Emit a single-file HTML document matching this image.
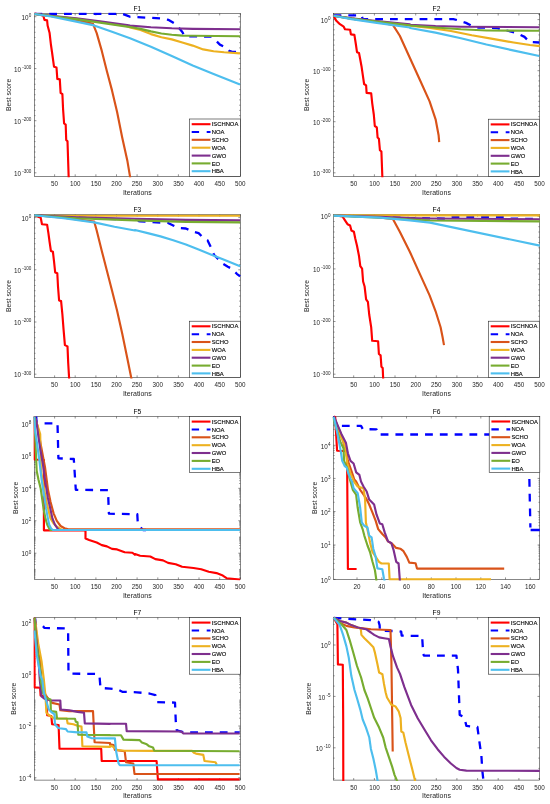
<!DOCTYPE html>
<html><head><meta charset="utf-8"><title>Convergence curves</title>
<style>html,body{margin:0;padding:0;background:#fff}svg{display:block;filter:blur(0.3px)}text{font-family:"Liberation Sans", Arial, Helvetica, sans-serif}</style>
</head><body>
<svg width="550" height="804" viewBox="0 0 550 804">
<rect width="550" height="804" fill="#fff"/>
<clipPath id="c1"><rect x="33.4" y="12.2" width="207.9" height="165.1"/></clipPath>
<rect x="34.4" y="13.4" width="205.9" height="162.9" fill="#fff" stroke="#262626" stroke-width="0.55"/>
<path d="M54.6 176.3v-2.0M54.6 13.4v2.0" stroke="#262626" stroke-width="0.5"/>
<text x="54.6" y="185.8" font-size="6.3" text-anchor="middle" fill="#262626">50</text>
<path d="M75.2 176.3v-2.0M75.2 13.4v2.0" stroke="#262626" stroke-width="0.5"/>
<text x="75.2" y="185.8" font-size="6.3" text-anchor="middle" fill="#262626">100</text>
<path d="M95.9 176.3v-2.0M95.9 13.4v2.0" stroke="#262626" stroke-width="0.5"/>
<text x="95.9" y="185.8" font-size="6.3" text-anchor="middle" fill="#262626">150</text>
<path d="M116.5 176.3v-2.0M116.5 13.4v2.0" stroke="#262626" stroke-width="0.5"/>
<text x="116.5" y="185.8" font-size="6.3" text-anchor="middle" fill="#262626">200</text>
<path d="M137.1 176.3v-2.0M137.1 13.4v2.0" stroke="#262626" stroke-width="0.5"/>
<text x="137.1" y="185.8" font-size="6.3" text-anchor="middle" fill="#262626">250</text>
<path d="M157.8 176.3v-2.0M157.8 13.4v2.0" stroke="#262626" stroke-width="0.5"/>
<text x="157.8" y="185.8" font-size="6.3" text-anchor="middle" fill="#262626">300</text>
<path d="M178.4 176.3v-2.0M178.4 13.4v2.0" stroke="#262626" stroke-width="0.5"/>
<text x="178.4" y="185.8" font-size="6.3" text-anchor="middle" fill="#262626">350</text>
<path d="M199.0 176.3v-2.0M199.0 13.4v2.0" stroke="#262626" stroke-width="0.5"/>
<text x="199.0" y="185.8" font-size="6.3" text-anchor="middle" fill="#262626">400</text>
<path d="M219.7 176.3v-2.0M219.7 13.4v2.0" stroke="#262626" stroke-width="0.5"/>
<text x="219.7" y="185.8" font-size="6.3" text-anchor="middle" fill="#262626">450</text>
<path d="M240.3 176.3v-2.0M240.3 13.4v2.0" stroke="#262626" stroke-width="0.5"/>
<text x="240.3" y="185.8" font-size="6.3" text-anchor="middle" fill="#262626">500</text>
<path d="M34.4 16.7h2.0M240.3 16.7h-2.0" stroke="#262626" stroke-width="0.5"/>
<text x="31.4" y="17.0" font-size="4.6" text-anchor="end" fill="#262626">0</text>
<text x="28.6" y="19.9" font-size="6.3" text-anchor="end" fill="#262626">10</text>
<path d="M34.4 68.6h2.0M240.3 68.6h-2.0" stroke="#262626" stroke-width="0.5"/>
<text x="31.4" y="68.9" font-size="4.6" text-anchor="end" fill="#262626">-100</text>
<text x="21.0" y="71.8" font-size="6.3" text-anchor="end" fill="#262626">10</text>
<path d="M34.4 120.7h2.0M240.3 120.7h-2.0" stroke="#262626" stroke-width="0.5"/>
<text x="31.4" y="121.0" font-size="4.6" text-anchor="end" fill="#262626">-200</text>
<text x="21.0" y="123.9" font-size="6.3" text-anchor="end" fill="#262626">10</text>
<path d="M34.4 172.8h2.0M240.3 172.8h-2.0" stroke="#262626" stroke-width="0.5"/>
<text x="31.4" y="173.1" font-size="4.6" text-anchor="end" fill="#262626">-300</text>
<text x="21.0" y="176.0" font-size="6.3" text-anchor="end" fill="#262626">10</text>
<path d="M34.4 21.9h1.1M240.3 21.9h-1.1M34.4 27.1h1.1M240.3 27.1h-1.1M34.4 32.3h1.1M240.3 32.3h-1.1M34.4 37.5h1.1M240.3 37.5h-1.1M34.4 42.7h1.1M240.3 42.7h-1.1M34.4 47.9h1.1M240.3 47.9h-1.1M34.4 53.1h1.1M240.3 53.1h-1.1M34.4 58.3h1.1M240.3 58.3h-1.1M34.4 63.5h1.1M240.3 63.5h-1.1M34.4 73.9h1.1M240.3 73.9h-1.1M34.4 79.1h1.1M240.3 79.1h-1.1M34.4 84.3h1.1M240.3 84.3h-1.1M34.4 89.5h1.1M240.3 89.5h-1.1M34.4 94.7h1.1M240.3 94.7h-1.1M34.4 99.9h1.1M240.3 99.9h-1.1M34.4 105.2h1.1M240.3 105.2h-1.1M34.4 110.4h1.1M240.3 110.4h-1.1M34.4 115.6h1.1M240.3 115.6h-1.1M34.4 126.0h1.1M240.3 126.0h-1.1M34.4 131.2h1.1M240.3 131.2h-1.1M34.4 136.4h1.1M240.3 136.4h-1.1M34.4 141.6h1.1M240.3 141.6h-1.1M34.4 146.8h1.1M240.3 146.8h-1.1M34.4 152.0h1.1M240.3 152.0h-1.1M34.4 157.2h1.1M240.3 157.2h-1.1M34.4 162.4h1.1M240.3 162.4h-1.1M34.4 167.6h1.1M240.3 167.6h-1.1" stroke="#262626" stroke-width="0.5"/>
<g clip-path="url(#c1)">
<polyline points="34.4,13.2 43.3,15.8 44.5,19.9 47.1,20.4 47.6,25.5 49.6,33.1 50.9,44.5 52.2,53.5 54.0,66.7 56.5,67.5 57.3,78.9 59.8,79.4 60.6,92.9 62.4,94.2 63.1,109.5 64.1,123.5 65.7,124.7 66.2,140.0 67.5,141.3 68.7,178.2" fill="none" stroke="#ff0000" stroke-width="2.15" stroke-linejoin="round"/>
<polyline points="34.4,13.8 122.0,13.8 127.2,15.6 130.0,16.8 150.9,17.8 161.4,18.5 168.7,19.9 173.9,23.1 178.1,26.8 182.3,32.0 184.8,36.2 211.5,36.6 215.7,40.4 219.9,44.6 226.2,47.7 229.3,50.9 232.0,51.9 240.0,51.9" fill="none" stroke="#0000ff" stroke-width="2.30" stroke-linejoin="round" stroke-dasharray="7.8 7.0"/>
<polyline points="34.4,14.0 50.9,16.0 76.4,19.9 92.9,23.7 96.7,33.1 101.8,50.9 106.9,71.3 112.0,90.4 117.1,112.0 122.2,137.5 127.3,160.4 130.3,178.2" fill="none" stroke="#d95319" stroke-width="2.15" stroke-linejoin="round"/>
<polyline points="34.4,14.0 50.9,16.0 76.3,18.8 101.8,22.1 127.2,26.2 130.0,27.4 140.5,30.0 150.9,34.1 161.4,37.3 171.8,39.4 182.3,42.5 192.7,45.6 203.2,49.4 213.6,51.3 224.1,52.3 240.0,53.4" fill="none" stroke="#edb120" stroke-width="2.15" stroke-linejoin="round"/>
<polyline points="34.4,14.0 50.9,15.8 76.3,18.3 101.8,21.6 127.2,25.0 130.0,25.6 150.9,27.2 171.8,28.3 192.7,28.9 240.0,29.3" fill="none" stroke="#7e2f8e" stroke-width="2.15" stroke-linejoin="round"/>
<polyline points="34.4,14.0 50.9,16.0 76.3,19.1 101.8,22.9 127.2,26.6 130.0,27.0 140.5,28.9 150.9,31.4 161.4,33.5 171.8,34.8 182.3,35.6 192.7,35.8 240.0,36.2" fill="none" stroke="#77ac30" stroke-width="2.15" stroke-linejoin="round"/>
<polyline points="34.4,14.0 50.9,16.5 76.3,21.6 94.1,25.4 112.0,31.8 130.0,38.3 150.9,46.7 171.8,56.1 192.7,65.5 213.6,73.9 240.0,84.4" fill="none" stroke="#4dbeee" stroke-width="2.15" stroke-linejoin="round"/>
</g>
<text x="137.3" y="10.8" font-size="6.7" text-anchor="middle" fill="#000">F1</text>
<text x="137.3" y="194.6" font-size="7.0" text-anchor="middle" fill="#262626">Iterations</text>
<text transform="translate(10.9 94.9) rotate(-90)" font-size="6.8" text-anchor="middle" fill="#262626">Best score</text>
<rect x="189.5" y="119.0" width="50.8" height="57.3" fill="#fff" stroke="#262626" stroke-width="0.6"/>
<path d="M191.7 124.2H210.5" stroke="#ff0000" stroke-width="2.1"/>
<text x="211.7" y="126.2" font-size="5.85" fill="#000" stroke="#000" stroke-width="0.12">ISCHNOA</text>
<path d="M191.7 132.0H210.5" stroke="#0000ff" stroke-width="2.1" stroke-dasharray="7.4 7.6"/>
<text x="211.7" y="134.1" font-size="5.85" fill="#000" stroke="#000" stroke-width="0.12">NOA</text>
<path d="M191.7 139.8H210.5" stroke="#d95319" stroke-width="2.1"/>
<text x="211.7" y="141.9" font-size="5.85" fill="#000" stroke="#000" stroke-width="0.12">SCHO</text>
<path d="M191.7 147.7H210.5" stroke="#edb120" stroke-width="2.1"/>
<text x="211.7" y="149.8" font-size="5.85" fill="#000" stroke="#000" stroke-width="0.12">WOA</text>
<path d="M191.7 155.6H210.5" stroke="#7e2f8e" stroke-width="2.1"/>
<text x="211.7" y="157.6" font-size="5.85" fill="#000" stroke="#000" stroke-width="0.12">GWO</text>
<path d="M191.7 163.4H210.5" stroke="#77ac30" stroke-width="2.1"/>
<text x="211.7" y="165.5" font-size="5.85" fill="#000" stroke="#000" stroke-width="0.12">EO</text>
<path d="M191.7 171.2H210.5" stroke="#4dbeee" stroke-width="2.1"/>
<text x="211.7" y="173.3" font-size="5.85" fill="#000" stroke="#000" stroke-width="0.12">HBA</text>
<clipPath id="c2"><rect x="332.5" y="12.3" width="208.0" height="165.0"/></clipPath>
<rect x="333.5" y="13.5" width="206.0" height="162.8" fill="#fff" stroke="#262626" stroke-width="0.55"/>
<path d="M353.7 176.3v-2.0M353.7 13.5v2.0" stroke="#262626" stroke-width="0.5"/>
<text x="353.7" y="185.8" font-size="6.3" text-anchor="middle" fill="#262626">50</text>
<path d="M374.4 176.3v-2.0M374.4 13.5v2.0" stroke="#262626" stroke-width="0.5"/>
<text x="374.4" y="185.8" font-size="6.3" text-anchor="middle" fill="#262626">100</text>
<path d="M395.0 176.3v-2.0M395.0 13.5v2.0" stroke="#262626" stroke-width="0.5"/>
<text x="395.0" y="185.8" font-size="6.3" text-anchor="middle" fill="#262626">150</text>
<path d="M415.7 176.3v-2.0M415.7 13.5v2.0" stroke="#262626" stroke-width="0.5"/>
<text x="415.7" y="185.8" font-size="6.3" text-anchor="middle" fill="#262626">200</text>
<path d="M436.3 176.3v-2.0M436.3 13.5v2.0" stroke="#262626" stroke-width="0.5"/>
<text x="436.3" y="185.8" font-size="6.3" text-anchor="middle" fill="#262626">250</text>
<path d="M456.9 176.3v-2.0M456.9 13.5v2.0" stroke="#262626" stroke-width="0.5"/>
<text x="456.9" y="185.8" font-size="6.3" text-anchor="middle" fill="#262626">300</text>
<path d="M477.6 176.3v-2.0M477.6 13.5v2.0" stroke="#262626" stroke-width="0.5"/>
<text x="477.6" y="185.8" font-size="6.3" text-anchor="middle" fill="#262626">350</text>
<path d="M498.2 176.3v-2.0M498.2 13.5v2.0" stroke="#262626" stroke-width="0.5"/>
<text x="498.2" y="185.8" font-size="6.3" text-anchor="middle" fill="#262626">400</text>
<path d="M518.9 176.3v-2.0M518.9 13.5v2.0" stroke="#262626" stroke-width="0.5"/>
<text x="518.9" y="185.8" font-size="6.3" text-anchor="middle" fill="#262626">450</text>
<path d="M539.5 176.3v-2.0M539.5 13.5v2.0" stroke="#262626" stroke-width="0.5"/>
<text x="539.5" y="185.8" font-size="6.3" text-anchor="middle" fill="#262626">500</text>
<path d="M333.5 19.6h2.0M539.5 19.6h-2.0" stroke="#262626" stroke-width="0.5"/>
<text x="330.5" y="19.9" font-size="4.6" text-anchor="end" fill="#262626">0</text>
<text x="327.8" y="22.8" font-size="6.3" text-anchor="end" fill="#262626">10</text>
<path d="M333.5 70.7h2.0M539.5 70.7h-2.0" stroke="#262626" stroke-width="0.5"/>
<text x="330.5" y="71.0" font-size="4.6" text-anchor="end" fill="#262626">-100</text>
<text x="320.1" y="73.9" font-size="6.3" text-anchor="end" fill="#262626">10</text>
<path d="M333.5 121.7h2.0M539.5 121.7h-2.0" stroke="#262626" stroke-width="0.5"/>
<text x="330.5" y="122.0" font-size="4.6" text-anchor="end" fill="#262626">-200</text>
<text x="320.1" y="124.9" font-size="6.3" text-anchor="end" fill="#262626">10</text>
<path d="M333.5 172.8h2.0M539.5 172.8h-2.0" stroke="#262626" stroke-width="0.5"/>
<text x="330.5" y="173.1" font-size="4.6" text-anchor="end" fill="#262626">-300</text>
<text x="320.1" y="176.0" font-size="6.3" text-anchor="end" fill="#262626">10</text>
<path d="M333.5 14.5h1.1M539.5 14.5h-1.1M333.5 24.7h1.1M539.5 24.7h-1.1M333.5 29.8h1.1M539.5 29.8h-1.1M333.5 34.9h1.1M539.5 34.9h-1.1M333.5 40.0h1.1M539.5 40.0h-1.1M333.5 45.1h1.1M539.5 45.1h-1.1M333.5 50.2h1.1M539.5 50.2h-1.1M333.5 55.3h1.1M539.5 55.3h-1.1M333.5 60.5h1.1M539.5 60.5h-1.1M333.5 65.6h1.1M539.5 65.6h-1.1M333.5 75.8h1.1M539.5 75.8h-1.1M333.5 80.9h1.1M539.5 80.9h-1.1M333.5 86.0h1.1M539.5 86.0h-1.1M333.5 91.1h1.1M539.5 91.1h-1.1M333.5 96.2h1.1M539.5 96.2h-1.1M333.5 101.3h1.1M539.5 101.3h-1.1M333.5 106.4h1.1M539.5 106.4h-1.1M333.5 111.5h1.1M539.5 111.5h-1.1M333.5 116.6h1.1M539.5 116.6h-1.1M333.5 126.8h1.1M539.5 126.8h-1.1M333.5 132.0h1.1M539.5 132.0h-1.1M333.5 137.1h1.1M539.5 137.1h-1.1M333.5 142.2h1.1M539.5 142.2h-1.1M333.5 147.3h1.1M539.5 147.3h-1.1M333.5 152.4h1.1M539.5 152.4h-1.1M333.5 157.5h1.1M539.5 157.5h-1.1M333.5 162.6h1.1M539.5 162.6h-1.1M333.5 167.7h1.1M539.5 167.7h-1.1" stroke="#262626" stroke-width="0.5"/>
<g clip-path="url(#c2)">
<polyline points="333.5,15.3 336.1,20.4 339.9,24.2 343.7,26.7 345.0,29.3 350.1,29.8 350.9,34.4 354.4,34.9 355.9,44.5 357.0,52.2 359.0,52.9 360.3,59.8 361.5,66.2 362.8,75.1 364.1,84.0 366.1,85.3 366.6,92.9 371.2,93.4 372.2,103.1 373.8,114.5 374.8,126.0 376.8,127.3 377.6,137.5 378.9,138.7 379.9,150.2 381.4,151.5 382.4,178.2" fill="none" stroke="#ff0000" stroke-width="2.15" stroke-linejoin="round"/>
<polyline points="333.5,15.3 361.5,15.3 362.8,19.1 409.9,19.1 410.0,19.1 453.3,19.1 458.4,20.4 466.0,22.9 473.6,26.7 478.7,27.5 496.5,28.0 506.7,30.5 516.9,33.1 524.5,36.9 529.6,42.0 539.3,42.5" fill="none" stroke="#0000ff" stroke-width="2.30" stroke-linejoin="round" stroke-dasharray="7.8 7.0"/>
<polyline points="333.5,15.8 351.4,18.6 376.8,21.9 392.9,24.9 399.8,35.8 409.8,57.7 419.7,79.5 429.6,101.4 435.6,119.3 438.6,135.2 439.2,142.1" fill="none" stroke="#d95319" stroke-width="2.15" stroke-linejoin="round"/>
<polyline points="333.5,15.8 351.4,18.6 376.8,21.9 409.9,25.7 410.0,25.6 430.0,27.9 450.9,31.0 471.8,35.2 492.7,38.9 513.6,42.5 530.0,45.0 539.8,46.1" fill="none" stroke="#edb120" stroke-width="2.15" stroke-linejoin="round"/>
<polyline points="333.5,15.8 351.4,18.3 376.8,21.1 409.9,24.4 410.0,24.7 435.5,26.0 460.9,26.7 539.3,27.2" fill="none" stroke="#7e2f8e" stroke-width="2.15" stroke-linejoin="round"/>
<polyline points="333.5,15.8 351.4,18.6 376.8,21.6 409.9,25.2 410.0,25.5 435.5,27.5 460.9,29.3 486.4,30.5 539.3,30.8" fill="none" stroke="#77ac30" stroke-width="2.15" stroke-linejoin="round"/>
<polyline points="333.5,15.8 351.4,19.1 376.8,22.9 409.9,27.5 410.0,28.0 435.5,32.6 460.9,38.2 486.4,44.5 511.8,50.1 539.3,56.0" fill="none" stroke="#4dbeee" stroke-width="2.15" stroke-linejoin="round"/>
</g>
<text x="436.5" y="10.9" font-size="6.7" text-anchor="middle" fill="#000">F2</text>
<text x="436.5" y="194.6" font-size="7.0" text-anchor="middle" fill="#262626">Iterations</text>
<text transform="translate(309.4 94.9) rotate(-90)" font-size="6.8" text-anchor="middle" fill="#262626">Best score</text>
<rect x="488.5" y="119.2" width="51.0" height="57.1" fill="#fff" stroke="#262626" stroke-width="0.6"/>
<path d="M490.7 124.4H509.5" stroke="#ff0000" stroke-width="2.1"/>
<text x="510.7" y="126.4" font-size="5.85" fill="#000" stroke="#000" stroke-width="0.12">ISCHNOA</text>
<path d="M490.7 132.2H509.5" stroke="#0000ff" stroke-width="2.1" stroke-dasharray="7.4 7.6"/>
<text x="510.7" y="134.3" font-size="5.85" fill="#000" stroke="#000" stroke-width="0.12">NOA</text>
<path d="M490.7 140.1H509.5" stroke="#d95319" stroke-width="2.1"/>
<text x="510.7" y="142.1" font-size="5.85" fill="#000" stroke="#000" stroke-width="0.12">SCHO</text>
<path d="M490.7 147.9H509.5" stroke="#edb120" stroke-width="2.1"/>
<text x="510.7" y="150.0" font-size="5.85" fill="#000" stroke="#000" stroke-width="0.12">WOA</text>
<path d="M490.7 155.8H509.5" stroke="#7e2f8e" stroke-width="2.1"/>
<text x="510.7" y="157.8" font-size="5.85" fill="#000" stroke="#000" stroke-width="0.12">GWO</text>
<path d="M490.7 163.6H509.5" stroke="#77ac30" stroke-width="2.1"/>
<text x="510.7" y="165.7" font-size="5.85" fill="#000" stroke="#000" stroke-width="0.12">EO</text>
<path d="M490.7 171.4H509.5" stroke="#4dbeee" stroke-width="2.1"/>
<text x="510.7" y="173.5" font-size="5.85" fill="#000" stroke="#000" stroke-width="0.12">HBA</text>
<clipPath id="c3"><rect x="33.4" y="213.4" width="207.9" height="165.0"/></clipPath>
<rect x="34.4" y="214.6" width="205.9" height="162.8" fill="#fff" stroke="#262626" stroke-width="0.55"/>
<path d="M54.6 377.4v-2.0M54.6 214.6v2.0" stroke="#262626" stroke-width="0.5"/>
<text x="54.6" y="386.9" font-size="6.3" text-anchor="middle" fill="#262626">50</text>
<path d="M75.2 377.4v-2.0M75.2 214.6v2.0" stroke="#262626" stroke-width="0.5"/>
<text x="75.2" y="386.9" font-size="6.3" text-anchor="middle" fill="#262626">100</text>
<path d="M95.9 377.4v-2.0M95.9 214.6v2.0" stroke="#262626" stroke-width="0.5"/>
<text x="95.9" y="386.9" font-size="6.3" text-anchor="middle" fill="#262626">150</text>
<path d="M116.5 377.4v-2.0M116.5 214.6v2.0" stroke="#262626" stroke-width="0.5"/>
<text x="116.5" y="386.9" font-size="6.3" text-anchor="middle" fill="#262626">200</text>
<path d="M137.1 377.4v-2.0M137.1 214.6v2.0" stroke="#262626" stroke-width="0.5"/>
<text x="137.1" y="386.9" font-size="6.3" text-anchor="middle" fill="#262626">250</text>
<path d="M157.8 377.4v-2.0M157.8 214.6v2.0" stroke="#262626" stroke-width="0.5"/>
<text x="157.8" y="386.9" font-size="6.3" text-anchor="middle" fill="#262626">300</text>
<path d="M178.4 377.4v-2.0M178.4 214.6v2.0" stroke="#262626" stroke-width="0.5"/>
<text x="178.4" y="386.9" font-size="6.3" text-anchor="middle" fill="#262626">350</text>
<path d="M199.0 377.4v-2.0M199.0 214.6v2.0" stroke="#262626" stroke-width="0.5"/>
<text x="199.0" y="386.9" font-size="6.3" text-anchor="middle" fill="#262626">400</text>
<path d="M219.7 377.4v-2.0M219.7 214.6v2.0" stroke="#262626" stroke-width="0.5"/>
<text x="219.7" y="386.9" font-size="6.3" text-anchor="middle" fill="#262626">450</text>
<path d="M240.3 377.4v-2.0M240.3 214.6v2.0" stroke="#262626" stroke-width="0.5"/>
<text x="240.3" y="386.9" font-size="6.3" text-anchor="middle" fill="#262626">500</text>
<path d="M34.4 217.6h2.0M240.3 217.6h-2.0" stroke="#262626" stroke-width="0.5"/>
<text x="31.4" y="217.9" font-size="4.6" text-anchor="end" fill="#262626">0</text>
<text x="28.6" y="220.8" font-size="6.3" text-anchor="end" fill="#262626">10</text>
<path d="M34.4 269.8h2.0M240.3 269.8h-2.0" stroke="#262626" stroke-width="0.5"/>
<text x="31.4" y="270.1" font-size="4.6" text-anchor="end" fill="#262626">-100</text>
<text x="21.0" y="273.0" font-size="6.3" text-anchor="end" fill="#262626">10</text>
<path d="M34.4 322.0h2.0M240.3 322.0h-2.0" stroke="#262626" stroke-width="0.5"/>
<text x="31.4" y="322.3" font-size="4.6" text-anchor="end" fill="#262626">-200</text>
<text x="21.0" y="325.2" font-size="6.3" text-anchor="end" fill="#262626">10</text>
<path d="M34.4 374.2h2.0M240.3 374.2h-2.0" stroke="#262626" stroke-width="0.5"/>
<text x="31.4" y="374.5" font-size="4.6" text-anchor="end" fill="#262626">-300</text>
<text x="21.0" y="377.4" font-size="6.3" text-anchor="end" fill="#262626">10</text>
<path d="M34.4 222.8h1.1M240.3 222.8h-1.1M34.4 228.0h1.1M240.3 228.0h-1.1M34.4 233.3h1.1M240.3 233.3h-1.1M34.4 238.5h1.1M240.3 238.5h-1.1M34.4 243.7h1.1M240.3 243.7h-1.1M34.4 248.9h1.1M240.3 248.9h-1.1M34.4 254.1h1.1M240.3 254.1h-1.1M34.4 259.4h1.1M240.3 259.4h-1.1M34.4 264.6h1.1M240.3 264.6h-1.1M34.4 275.0h1.1M240.3 275.0h-1.1M34.4 280.2h1.1M240.3 280.2h-1.1M34.4 285.5h1.1M240.3 285.5h-1.1M34.4 290.7h1.1M240.3 290.7h-1.1M34.4 295.9h1.1M240.3 295.9h-1.1M34.4 301.1h1.1M240.3 301.1h-1.1M34.4 306.3h1.1M240.3 306.3h-1.1M34.4 311.6h1.1M240.3 311.6h-1.1M34.4 316.8h1.1M240.3 316.8h-1.1M34.4 327.2h1.1M240.3 327.2h-1.1M34.4 332.4h1.1M240.3 332.4h-1.1M34.4 337.7h1.1M240.3 337.7h-1.1M34.4 342.9h1.1M240.3 342.9h-1.1M34.4 348.1h1.1M240.3 348.1h-1.1M34.4 353.3h1.1M240.3 353.3h-1.1M34.4 358.5h1.1M240.3 358.5h-1.1M34.4 363.8h1.1M240.3 363.8h-1.1M34.4 369.0h1.1M240.3 369.0h-1.1" stroke="#262626" stroke-width="0.5"/>
<g clip-path="url(#c3)">
<polyline points="34.4,215.3 40.7,217.8 42.0,224.2 47.1,224.7 48.4,233.1 49.6,242.0 50.9,250.9 52.9,251.7 54.0,261.1 55.2,272.5 57.3,273.3 58.0,286.5 59.1,300.5 61.1,301.1 62.4,314.5 63.6,329.8 64.9,345.1 67.5,346.4 68.2,362.9 69.2,379.5" fill="none" stroke="#ff0000" stroke-width="2.15" stroke-linejoin="round"/>
<polyline points="34.4,215.5 76.4,217.3 134.9,220.1 135.0,220.1 140.1,221.4 168.1,222.9 173.2,225.5 178.3,228.0 185.9,228.5 193.5,231.8 198.6,233.1 203.7,238.2 207.5,240.2 211.4,248.4 213.9,254.7 219.0,259.8 222.8,263.6 227.9,266.7 231.7,268.7 236.8,273.8 240.1,276.4" fill="none" stroke="#0000ff" stroke-width="2.30" stroke-linejoin="round" stroke-dasharray="7.8 7.0"/>
<polyline points="34.4,215.3 63.6,217.8 94.2,221.6 96.7,230.5 101.8,250.9 106.9,270.8 112.0,290.4 117.1,310.7 122.2,333.6 127.3,358.3 131.6,379.5" fill="none" stroke="#d95319" stroke-width="2.15" stroke-linejoin="round"/>
<polyline points="34.4,215.7 134.9,215.7 135.0,215.7 240.1,215.7" fill="none" stroke="#edb120" stroke-width="2.15" stroke-linejoin="round"/>
<polyline points="34.4,215.3 76.4,217.3 134.9,218.8 135.0,218.8 185.9,219.9 240.1,220.4" fill="none" stroke="#7e2f8e" stroke-width="2.15" stroke-linejoin="round"/>
<polyline points="34.4,215.3 76.4,218.3 134.9,220.4 135.0,220.4 185.9,221.9 240.1,222.4" fill="none" stroke="#77ac30" stroke-width="2.15" stroke-linejoin="round"/>
<polyline points="34.4,215.3 63.6,218.3 94.2,222.4 114.5,226.7 134.9,230.5 135.0,230.0 147.7,233.1 160.5,236.4 173.2,240.2 185.9,244.5 198.6,249.6 211.4,254.7 224.1,259.8 240.1,266.2" fill="none" stroke="#4dbeee" stroke-width="2.15" stroke-linejoin="round"/>
</g>
<text x="137.3" y="212.0" font-size="6.7" text-anchor="middle" fill="#000">F3</text>
<text x="137.3" y="395.7" font-size="7.0" text-anchor="middle" fill="#262626">Iterations</text>
<text transform="translate(10.9 296.0) rotate(-90)" font-size="6.8" text-anchor="middle" fill="#262626">Best score</text>
<rect x="189.5" y="321.2" width="50.8" height="56.2" fill="#fff" stroke="#262626" stroke-width="0.6"/>
<path d="M191.7 326.3H210.5" stroke="#ff0000" stroke-width="2.1"/>
<text x="211.7" y="328.4" font-size="5.85" fill="#000" stroke="#000" stroke-width="0.12">ISCHNOA</text>
<path d="M191.7 334.2H210.5" stroke="#0000ff" stroke-width="2.1" stroke-dasharray="7.4 7.6"/>
<text x="211.7" y="336.2" font-size="5.85" fill="#000" stroke="#000" stroke-width="0.12">NOA</text>
<path d="M191.7 342.0H210.5" stroke="#d95319" stroke-width="2.1"/>
<text x="211.7" y="344.1" font-size="5.85" fill="#000" stroke="#000" stroke-width="0.12">SCHO</text>
<path d="M191.7 349.9H210.5" stroke="#edb120" stroke-width="2.1"/>
<text x="211.7" y="351.9" font-size="5.85" fill="#000" stroke="#000" stroke-width="0.12">WOA</text>
<path d="M191.7 357.7H210.5" stroke="#7e2f8e" stroke-width="2.1"/>
<text x="211.7" y="359.8" font-size="5.85" fill="#000" stroke="#000" stroke-width="0.12">GWO</text>
<path d="M191.7 365.6H210.5" stroke="#77ac30" stroke-width="2.1"/>
<text x="211.7" y="367.6" font-size="5.85" fill="#000" stroke="#000" stroke-width="0.12">EO</text>
<path d="M191.7 373.4H210.5" stroke="#4dbeee" stroke-width="2.1"/>
<text x="211.7" y="375.5" font-size="5.85" fill="#000" stroke="#000" stroke-width="0.12">HBA</text>
<clipPath id="c4"><rect x="332.5" y="213.4" width="208.0" height="165.0"/></clipPath>
<rect x="333.5" y="214.6" width="206.0" height="162.8" fill="#fff" stroke="#262626" stroke-width="0.55"/>
<path d="M353.7 377.4v-2.0M353.7 214.6v2.0" stroke="#262626" stroke-width="0.5"/>
<text x="353.7" y="386.9" font-size="6.3" text-anchor="middle" fill="#262626">50</text>
<path d="M374.4 377.4v-2.0M374.4 214.6v2.0" stroke="#262626" stroke-width="0.5"/>
<text x="374.4" y="386.9" font-size="6.3" text-anchor="middle" fill="#262626">100</text>
<path d="M395.0 377.4v-2.0M395.0 214.6v2.0" stroke="#262626" stroke-width="0.5"/>
<text x="395.0" y="386.9" font-size="6.3" text-anchor="middle" fill="#262626">150</text>
<path d="M415.7 377.4v-2.0M415.7 214.6v2.0" stroke="#262626" stroke-width="0.5"/>
<text x="415.7" y="386.9" font-size="6.3" text-anchor="middle" fill="#262626">200</text>
<path d="M436.3 377.4v-2.0M436.3 214.6v2.0" stroke="#262626" stroke-width="0.5"/>
<text x="436.3" y="386.9" font-size="6.3" text-anchor="middle" fill="#262626">250</text>
<path d="M456.9 377.4v-2.0M456.9 214.6v2.0" stroke="#262626" stroke-width="0.5"/>
<text x="456.9" y="386.9" font-size="6.3" text-anchor="middle" fill="#262626">300</text>
<path d="M477.6 377.4v-2.0M477.6 214.6v2.0" stroke="#262626" stroke-width="0.5"/>
<text x="477.6" y="386.9" font-size="6.3" text-anchor="middle" fill="#262626">350</text>
<path d="M498.2 377.4v-2.0M498.2 214.6v2.0" stroke="#262626" stroke-width="0.5"/>
<text x="498.2" y="386.9" font-size="6.3" text-anchor="middle" fill="#262626">400</text>
<path d="M518.9 377.4v-2.0M518.9 214.6v2.0" stroke="#262626" stroke-width="0.5"/>
<text x="518.9" y="386.9" font-size="6.3" text-anchor="middle" fill="#262626">450</text>
<path d="M539.5 377.4v-2.0M539.5 214.6v2.0" stroke="#262626" stroke-width="0.5"/>
<text x="539.5" y="386.9" font-size="6.3" text-anchor="middle" fill="#262626">500</text>
<path d="M333.5 216.2h2.0M539.5 216.2h-2.0" stroke="#262626" stroke-width="0.5"/>
<text x="330.5" y="216.5" font-size="4.6" text-anchor="end" fill="#262626">0</text>
<text x="327.8" y="219.4" font-size="6.3" text-anchor="end" fill="#262626">10</text>
<path d="M333.5 268.9h2.0M539.5 268.9h-2.0" stroke="#262626" stroke-width="0.5"/>
<text x="330.5" y="269.2" font-size="4.6" text-anchor="end" fill="#262626">-100</text>
<text x="320.1" y="272.1" font-size="6.3" text-anchor="end" fill="#262626">10</text>
<path d="M333.5 321.5h2.0M539.5 321.5h-2.0" stroke="#262626" stroke-width="0.5"/>
<text x="330.5" y="321.8" font-size="4.6" text-anchor="end" fill="#262626">-200</text>
<text x="320.1" y="324.7" font-size="6.3" text-anchor="end" fill="#262626">10</text>
<path d="M333.5 374.2h2.0M539.5 374.2h-2.0" stroke="#262626" stroke-width="0.5"/>
<text x="330.5" y="374.5" font-size="4.6" text-anchor="end" fill="#262626">-300</text>
<text x="320.1" y="377.4" font-size="6.3" text-anchor="end" fill="#262626">10</text>
<path d="M333.5 221.5h1.1M539.5 221.5h-1.1M333.5 226.7h1.1M539.5 226.7h-1.1M333.5 232.0h1.1M539.5 232.0h-1.1M333.5 237.3h1.1M539.5 237.3h-1.1M333.5 242.5h1.1M539.5 242.5h-1.1M333.5 247.8h1.1M539.5 247.8h-1.1M333.5 253.1h1.1M539.5 253.1h-1.1M333.5 258.3h1.1M539.5 258.3h-1.1M333.5 263.6h1.1M539.5 263.6h-1.1M333.5 274.1h1.1M539.5 274.1h-1.1M333.5 279.4h1.1M539.5 279.4h-1.1M333.5 284.7h1.1M539.5 284.7h-1.1M333.5 289.9h1.1M539.5 289.9h-1.1M333.5 295.2h1.1M539.5 295.2h-1.1M333.5 300.5h1.1M539.5 300.5h-1.1M333.5 305.7h1.1M539.5 305.7h-1.1M333.5 311.0h1.1M539.5 311.0h-1.1M333.5 316.3h1.1M539.5 316.3h-1.1M333.5 326.8h1.1M539.5 326.8h-1.1M333.5 332.1h1.1M539.5 332.1h-1.1M333.5 337.3h1.1M539.5 337.3h-1.1M333.5 342.6h1.1M539.5 342.6h-1.1M333.5 347.9h1.1M539.5 347.9h-1.1M333.5 353.1h1.1M539.5 353.1h-1.1M333.5 358.4h1.1M539.5 358.4h-1.1M333.5 363.7h1.1M539.5 363.7h-1.1M333.5 368.9h1.1M539.5 368.9h-1.1" stroke="#262626" stroke-width="0.5"/>
<g clip-path="url(#c4)">
<polyline points="333.5,215.3 342.5,216.5 345.0,220.4 347.5,224.2 350.1,225.5 351.4,230.5 353.9,231.8 355.2,238.2 357.0,245.8 359.0,256.0 360.3,266.2 362.1,268.7 363.1,281.5 364.6,286.5 366.1,299.3 367.9,301.8 369.2,314.5 371.2,327.3 372.2,340.8 378.1,341.3 378.9,354.0 380.6,355.3 381.4,366.7 382.7,368.0 383.2,379.5" fill="none" stroke="#ff0000" stroke-width="2.15" stroke-linejoin="round"/>
<polyline points="333.5,215.5 380.0,216.9 410.0,218.1 449.0,218.6 453.6,216.9 507.5,216.9 511.0,218.7 539.8,218.9" fill="none" stroke="#0000ff" stroke-width="2.30" stroke-linejoin="round" stroke-dasharray="7.8 7.0"/>
<polyline points="333.5,215.3 376.8,217.1 392.9,218.9 399.8,231.8 409.8,251.7 419.7,273.6 429.6,295.4 435.6,311.3 440.6,327.2 442.6,337.2 444.0,345.1" fill="none" stroke="#d95319" stroke-width="2.15" stroke-linejoin="round"/>
<polyline points="333.5,215.3 539.8,215.3" fill="none" stroke="#edb120" stroke-width="2.15" stroke-linejoin="round"/>
<polyline points="333.5,215.5 380.0,216.8 410.0,218.0 430.0,218.5 539.8,219.2" fill="none" stroke="#7e2f8e" stroke-width="2.15" stroke-linejoin="round"/>
<polyline points="333.5,215.6 380.0,217.8 410.0,219.6 430.0,220.5 539.8,221.4" fill="none" stroke="#77ac30" stroke-width="2.15" stroke-linejoin="round"/>
<polyline points="333.5,215.6 380.0,217.6 410.0,220.4 430.0,222.6 539.8,245.6" fill="none" stroke="#4dbeee" stroke-width="2.15" stroke-linejoin="round"/>
</g>
<text x="436.5" y="212.0" font-size="6.7" text-anchor="middle" fill="#000">F4</text>
<text x="436.5" y="395.7" font-size="7.0" text-anchor="middle" fill="#262626">Iterations</text>
<text transform="translate(309.4 296.0) rotate(-90)" font-size="6.8" text-anchor="middle" fill="#262626">Best score</text>
<rect x="488.5" y="321.2" width="51.0" height="56.2" fill="#fff" stroke="#262626" stroke-width="0.6"/>
<path d="M490.7 326.3H509.5" stroke="#ff0000" stroke-width="2.1"/>
<text x="510.7" y="328.4" font-size="5.85" fill="#000" stroke="#000" stroke-width="0.12">ISCHNOA</text>
<path d="M490.7 334.2H509.5" stroke="#0000ff" stroke-width="2.1" stroke-dasharray="7.4 7.6"/>
<text x="510.7" y="336.2" font-size="5.85" fill="#000" stroke="#000" stroke-width="0.12">NOA</text>
<path d="M490.7 342.0H509.5" stroke="#d95319" stroke-width="2.1"/>
<text x="510.7" y="344.1" font-size="5.85" fill="#000" stroke="#000" stroke-width="0.12">SCHO</text>
<path d="M490.7 349.9H509.5" stroke="#edb120" stroke-width="2.1"/>
<text x="510.7" y="351.9" font-size="5.85" fill="#000" stroke="#000" stroke-width="0.12">WOA</text>
<path d="M490.7 357.7H509.5" stroke="#7e2f8e" stroke-width="2.1"/>
<text x="510.7" y="359.8" font-size="5.85" fill="#000" stroke="#000" stroke-width="0.12">GWO</text>
<path d="M490.7 365.6H509.5" stroke="#77ac30" stroke-width="2.1"/>
<text x="510.7" y="367.6" font-size="5.85" fill="#000" stroke="#000" stroke-width="0.12">EO</text>
<path d="M490.7 373.4H509.5" stroke="#4dbeee" stroke-width="2.1"/>
<text x="510.7" y="375.5" font-size="5.85" fill="#000" stroke="#000" stroke-width="0.12">HBA</text>
<clipPath id="c5"><rect x="33.4" y="415.3" width="207.9" height="165.1"/></clipPath>
<rect x="34.4" y="416.5" width="205.9" height="162.9" fill="#fff" stroke="#262626" stroke-width="0.55"/>
<path d="M54.6 579.4v-2.0M54.6 416.5v2.0" stroke="#262626" stroke-width="0.5"/>
<text x="54.6" y="588.9" font-size="6.3" text-anchor="middle" fill="#262626">50</text>
<path d="M75.2 579.4v-2.0M75.2 416.5v2.0" stroke="#262626" stroke-width="0.5"/>
<text x="75.2" y="588.9" font-size="6.3" text-anchor="middle" fill="#262626">100</text>
<path d="M95.9 579.4v-2.0M95.9 416.5v2.0" stroke="#262626" stroke-width="0.5"/>
<text x="95.9" y="588.9" font-size="6.3" text-anchor="middle" fill="#262626">150</text>
<path d="M116.5 579.4v-2.0M116.5 416.5v2.0" stroke="#262626" stroke-width="0.5"/>
<text x="116.5" y="588.9" font-size="6.3" text-anchor="middle" fill="#262626">200</text>
<path d="M137.1 579.4v-2.0M137.1 416.5v2.0" stroke="#262626" stroke-width="0.5"/>
<text x="137.1" y="588.9" font-size="6.3" text-anchor="middle" fill="#262626">250</text>
<path d="M157.8 579.4v-2.0M157.8 416.5v2.0" stroke="#262626" stroke-width="0.5"/>
<text x="157.8" y="588.9" font-size="6.3" text-anchor="middle" fill="#262626">300</text>
<path d="M178.4 579.4v-2.0M178.4 416.5v2.0" stroke="#262626" stroke-width="0.5"/>
<text x="178.4" y="588.9" font-size="6.3" text-anchor="middle" fill="#262626">350</text>
<path d="M199.0 579.4v-2.0M199.0 416.5v2.0" stroke="#262626" stroke-width="0.5"/>
<text x="199.0" y="588.9" font-size="6.3" text-anchor="middle" fill="#262626">400</text>
<path d="M219.7 579.4v-2.0M219.7 416.5v2.0" stroke="#262626" stroke-width="0.5"/>
<text x="219.7" y="588.9" font-size="6.3" text-anchor="middle" fill="#262626">450</text>
<path d="M240.3 579.4v-2.0M240.3 416.5v2.0" stroke="#262626" stroke-width="0.5"/>
<text x="240.3" y="588.9" font-size="6.3" text-anchor="middle" fill="#262626">500</text>
<path d="M34.4 423.6h2.0M240.3 423.6h-2.0" stroke="#262626" stroke-width="0.5"/>
<text x="31.4" y="423.9" font-size="4.6" text-anchor="end" fill="#262626">8</text>
<text x="28.6" y="426.8" font-size="6.3" text-anchor="end" fill="#262626">10</text>
<path d="M34.4 455.9h2.0M240.3 455.9h-2.0" stroke="#262626" stroke-width="0.5"/>
<text x="31.4" y="456.2" font-size="4.6" text-anchor="end" fill="#262626">6</text>
<text x="28.6" y="459.1" font-size="6.3" text-anchor="end" fill="#262626">10</text>
<path d="M34.4 488.3h2.0M240.3 488.3h-2.0" stroke="#262626" stroke-width="0.5"/>
<text x="31.4" y="488.6" font-size="4.6" text-anchor="end" fill="#262626">4</text>
<text x="28.6" y="491.5" font-size="6.3" text-anchor="end" fill="#262626">10</text>
<path d="M34.4 520.7h2.0M240.3 520.7h-2.0" stroke="#262626" stroke-width="0.5"/>
<text x="31.4" y="521.0" font-size="4.6" text-anchor="end" fill="#262626">2</text>
<text x="28.6" y="523.9" font-size="6.3" text-anchor="end" fill="#262626">10</text>
<path d="M34.4 553.2h2.0M240.3 553.2h-2.0" stroke="#262626" stroke-width="0.5"/>
<text x="31.4" y="553.5" font-size="4.6" text-anchor="end" fill="#262626">0</text>
<text x="28.6" y="556.4" font-size="6.3" text-anchor="end" fill="#262626">10</text>
<path d="M34.4 418.7h1.1M240.3 418.7h-1.1M34.4 439.8h1.1M240.3 439.8h-1.1M34.4 434.9h1.1M240.3 434.9h-1.1M34.4 432.1h1.1M240.3 432.1h-1.1M34.4 430.0h1.1M240.3 430.0h-1.1M34.4 428.5h1.1M240.3 428.5h-1.1M34.4 427.2h1.1M240.3 427.2h-1.1M34.4 426.1h1.1M240.3 426.1h-1.1M34.4 425.2h1.1M240.3 425.2h-1.1M34.4 424.3h1.1M240.3 424.3h-1.1M34.4 451.1h1.1M240.3 451.1h-1.1M34.4 448.3h1.1M240.3 448.3h-1.1M34.4 446.2h1.1M240.3 446.2h-1.1M34.4 444.7h1.1M240.3 444.7h-1.1M34.4 443.4h1.1M240.3 443.4h-1.1M34.4 442.3h1.1M240.3 442.3h-1.1M34.4 441.4h1.1M240.3 441.4h-1.1M34.4 440.5h1.1M240.3 440.5h-1.1M34.4 472.2h1.1M240.3 472.2h-1.1M34.4 467.3h1.1M240.3 467.3h-1.1M34.4 464.5h1.1M240.3 464.5h-1.1M34.4 462.4h1.1M240.3 462.4h-1.1M34.4 460.9h1.1M240.3 460.9h-1.1M34.4 459.6h1.1M240.3 459.6h-1.1M34.4 458.5h1.1M240.3 458.5h-1.1M34.4 457.6h1.1M240.3 457.6h-1.1M34.4 456.7h1.1M240.3 456.7h-1.1M34.4 483.5h1.1M240.3 483.5h-1.1M34.4 480.7h1.1M240.3 480.7h-1.1M34.4 478.6h1.1M240.3 478.6h-1.1M34.4 477.1h1.1M240.3 477.1h-1.1M34.4 475.8h1.1M240.3 475.8h-1.1M34.4 474.7h1.1M240.3 474.7h-1.1M34.4 473.8h1.1M240.3 473.8h-1.1M34.4 472.9h1.1M240.3 472.9h-1.1M34.4 504.6h1.1M240.3 504.6h-1.1M34.4 499.7h1.1M240.3 499.7h-1.1M34.4 496.9h1.1M240.3 496.9h-1.1M34.4 494.8h1.1M240.3 494.8h-1.1M34.4 493.3h1.1M240.3 493.3h-1.1M34.4 492.0h1.1M240.3 492.0h-1.1M34.4 490.9h1.1M240.3 490.9h-1.1M34.4 490.0h1.1M240.3 490.0h-1.1M34.4 489.1h1.1M240.3 489.1h-1.1M34.4 515.9h1.1M240.3 515.9h-1.1M34.4 513.1h1.1M240.3 513.1h-1.1M34.4 511.0h1.1M240.3 511.0h-1.1M34.4 509.5h1.1M240.3 509.5h-1.1M34.4 508.2h1.1M240.3 508.2h-1.1M34.4 507.1h1.1M240.3 507.1h-1.1M34.4 506.2h1.1M240.3 506.2h-1.1M34.4 505.3h1.1M240.3 505.3h-1.1M34.4 537.0h1.1M240.3 537.0h-1.1M34.4 532.1h1.1M240.3 532.1h-1.1M34.4 529.3h1.1M240.3 529.3h-1.1M34.4 527.2h1.1M240.3 527.2h-1.1M34.4 525.7h1.1M240.3 525.7h-1.1M34.4 524.4h1.1M240.3 524.4h-1.1M34.4 523.3h1.1M240.3 523.3h-1.1M34.4 522.4h1.1M240.3 522.4h-1.1M34.4 521.5h1.1M240.3 521.5h-1.1M34.4 548.3h1.1M240.3 548.3h-1.1M34.4 545.5h1.1M240.3 545.5h-1.1M34.4 543.4h1.1M240.3 543.4h-1.1M34.4 541.9h1.1M240.3 541.9h-1.1M34.4 540.6h1.1M240.3 540.6h-1.1M34.4 539.5h1.1M240.3 539.5h-1.1M34.4 538.6h1.1M240.3 538.6h-1.1M34.4 537.7h1.1M240.3 537.7h-1.1M34.4 569.4h1.1M240.3 569.4h-1.1M34.4 564.5h1.1M240.3 564.5h-1.1M34.4 561.7h1.1M240.3 561.7h-1.1M34.4 559.6h1.1M240.3 559.6h-1.1M34.4 558.1h1.1M240.3 558.1h-1.1M34.4 556.8h1.1M240.3 556.8h-1.1M34.4 555.7h1.1M240.3 555.7h-1.1M34.4 554.8h1.1M240.3 554.8h-1.1M34.4 553.9h1.1M240.3 553.9h-1.1M34.4 577.9h1.1M240.3 577.9h-1.1M34.4 575.8h1.1M240.3 575.8h-1.1M34.4 574.3h1.1M240.3 574.3h-1.1M34.4 573.0h1.1M240.3 573.0h-1.1M34.4 571.9h1.1M240.3 571.9h-1.1M34.4 571.0h1.1M240.3 571.0h-1.1M34.4 570.1h1.1M240.3 570.1h-1.1" stroke="#262626" stroke-width="0.5"/>
<g clip-path="url(#c5)">
<polyline points="34.4,416.5 34.6,459.5 43.9,460.0 43.9,530.3 85.5,530.3 85.5,538.5 89.1,540.0 96.7,542.5 101.8,545.1 106.9,546.4 112.0,548.9 117.1,549.4 124.7,552.2 132.4,552.7 134.9,554.8 135.0,554.0 140.1,555.8 150.3,556.5 155.4,559.1 163.0,560.4 168.1,562.9 175.7,564.2 182.1,566.7 193.5,568.0 201.2,569.3 208.8,571.8 216.5,573.1 222.8,575.6 226.6,578.2 240.1,579.5" fill="none" stroke="#ff0000" stroke-width="2.15" stroke-linejoin="round"/>
<polyline points="36.2,416.5 36.7,423.4 57.5,423.4 58.4,458.3 73.8,459.0 75.8,489.8 108.0,490.2 108.9,513.7 137.3,514.2 137.8,523.5 140.5,527.2 143.0,530.0 146.0,530.0" fill="none" stroke="#0000ff" stroke-width="2.30" stroke-linejoin="round" stroke-dasharray="7.8 7.0"/>
<polyline points="34.4,416.5 37.4,425.3 41.0,446.0 45.1,467.8 47.9,489.1 50.5,501.8 53.6,513.3 56.8,520.9 60.6,526.0 64.5,528.2 68.3,529.4 240.0,529.4" fill="none" stroke="#d95319" stroke-width="2.15" stroke-linejoin="round"/>
<polyline points="34.4,416.5 38.5,428.5 40.2,434.0 40.9,470.0 44.1,489.1 47.3,505.6 50.5,518.4 53.6,523.5 56.8,526.6 60.0,528.7 62.0,530.0 240.0,530.0" fill="none" stroke="#edb120" stroke-width="2.15" stroke-linejoin="round"/>
<polyline points="34.4,416.5 36.4,420.9 38.5,437.3 40.7,451.4 42.9,464.0 45.4,482.7 47.9,498.0 50.5,509.5 52.4,518.4 54.9,524.7 57.5,528.5 59.0,530.0 240.0,530.0" fill="none" stroke="#7e2f8e" stroke-width="2.15" stroke-linejoin="round"/>
<polyline points="34.5,417.0 35.2,437.0 36.0,456.0 36.7,471.0 38.5,479.8 40.7,488.5 43.5,508.2 45.4,518.4 47.3,524.7 49.2,528.5 50.5,530.0 240.0,530.0" fill="none" stroke="#77ac30" stroke-width="2.15" stroke-linejoin="round"/>
<polyline points="34.2,416.5 35.3,431.8 37.4,446.0 39.6,462.3 41.5,479.0 44.1,495.5 46.0,508.2 47.9,518.4 49.2,524.7 51.1,528.5 53.0,530.0 240.0,530.0" fill="none" stroke="#4dbeee" stroke-width="2.15" stroke-linejoin="round"/>
</g>
<text x="137.3" y="413.9" font-size="6.7" text-anchor="middle" fill="#000">F5</text>
<text x="137.3" y="597.7" font-size="7.0" text-anchor="middle" fill="#262626">Iterations</text>
<text transform="translate(17.5 497.9) rotate(-90)" font-size="6.8" text-anchor="middle" fill="#262626">Best score</text>
<rect x="189.5" y="416.5" width="50.8" height="56.1" fill="#fff" stroke="#262626" stroke-width="0.6"/>
<path d="M191.7 421.6H210.5" stroke="#ff0000" stroke-width="2.1"/>
<text x="211.7" y="423.7" font-size="5.85" fill="#000" stroke="#000" stroke-width="0.12">ISCHNOA</text>
<path d="M191.7 429.5H210.5" stroke="#0000ff" stroke-width="2.1" stroke-dasharray="7.4 7.6"/>
<text x="211.7" y="431.6" font-size="5.85" fill="#000" stroke="#000" stroke-width="0.12">NOA</text>
<path d="M191.7 437.3H210.5" stroke="#d95319" stroke-width="2.1"/>
<text x="211.7" y="439.4" font-size="5.85" fill="#000" stroke="#000" stroke-width="0.12">SCHO</text>
<path d="M191.7 445.2H210.5" stroke="#edb120" stroke-width="2.1"/>
<text x="211.7" y="447.2" font-size="5.85" fill="#000" stroke="#000" stroke-width="0.12">WOA</text>
<path d="M191.7 453.0H210.5" stroke="#7e2f8e" stroke-width="2.1"/>
<text x="211.7" y="455.1" font-size="5.85" fill="#000" stroke="#000" stroke-width="0.12">GWO</text>
<path d="M191.7 460.9H210.5" stroke="#77ac30" stroke-width="2.1"/>
<text x="211.7" y="462.9" font-size="5.85" fill="#000" stroke="#000" stroke-width="0.12">EO</text>
<path d="M191.7 468.8H210.5" stroke="#4dbeee" stroke-width="2.1"/>
<text x="211.7" y="470.8" font-size="5.85" fill="#000" stroke="#000" stroke-width="0.12">HBA</text>
<clipPath id="c6"><rect x="332.5" y="415.3" width="208.1" height="165.1"/></clipPath>
<rect x="333.5" y="416.5" width="206.1" height="162.9" fill="#fff" stroke="#262626" stroke-width="0.55"/>
<path d="M357.0 579.4v-2.0M357.0 416.5v2.0" stroke="#262626" stroke-width="0.5"/>
<text x="357.0" y="588.9" font-size="6.3" text-anchor="middle" fill="#262626">20</text>
<path d="M381.8 579.4v-2.0M381.8 416.5v2.0" stroke="#262626" stroke-width="0.5"/>
<text x="381.8" y="588.9" font-size="6.3" text-anchor="middle" fill="#262626">40</text>
<path d="M406.5 579.4v-2.0M406.5 416.5v2.0" stroke="#262626" stroke-width="0.5"/>
<text x="406.5" y="588.9" font-size="6.3" text-anchor="middle" fill="#262626">60</text>
<path d="M431.3 579.4v-2.0M431.3 416.5v2.0" stroke="#262626" stroke-width="0.5"/>
<text x="431.3" y="588.9" font-size="6.3" text-anchor="middle" fill="#262626">80</text>
<path d="M456.0 579.4v-2.0M456.0 416.5v2.0" stroke="#262626" stroke-width="0.5"/>
<text x="456.0" y="588.9" font-size="6.3" text-anchor="middle" fill="#262626">100</text>
<path d="M480.8 579.4v-2.0M480.8 416.5v2.0" stroke="#262626" stroke-width="0.5"/>
<text x="480.8" y="588.9" font-size="6.3" text-anchor="middle" fill="#262626">120</text>
<path d="M505.5 579.4v-2.0M505.5 416.5v2.0" stroke="#262626" stroke-width="0.5"/>
<text x="505.5" y="588.9" font-size="6.3" text-anchor="middle" fill="#262626">140</text>
<path d="M530.3 579.4v-2.0M530.3 416.5v2.0" stroke="#262626" stroke-width="0.5"/>
<text x="530.3" y="588.9" font-size="6.3" text-anchor="middle" fill="#262626">160</text>
<path d="M333.5 445.3h2.0M539.6 445.3h-2.0" stroke="#262626" stroke-width="0.5"/>
<text x="330.5" y="445.6" font-size="4.6" text-anchor="end" fill="#262626">4</text>
<text x="327.8" y="448.5" font-size="6.3" text-anchor="end" fill="#262626">10</text>
<path d="M333.5 478.4h2.0M539.6 478.4h-2.0" stroke="#262626" stroke-width="0.5"/>
<text x="330.5" y="478.7" font-size="4.6" text-anchor="end" fill="#262626">3</text>
<text x="327.8" y="481.6" font-size="6.3" text-anchor="end" fill="#262626">10</text>
<path d="M333.5 511.5h2.0M539.6 511.5h-2.0" stroke="#262626" stroke-width="0.5"/>
<text x="330.5" y="511.8" font-size="4.6" text-anchor="end" fill="#262626">2</text>
<text x="327.8" y="514.7" font-size="6.3" text-anchor="end" fill="#262626">10</text>
<path d="M333.5 545.0h2.0M539.6 545.0h-2.0" stroke="#262626" stroke-width="0.5"/>
<text x="330.5" y="545.3" font-size="4.6" text-anchor="end" fill="#262626">1</text>
<text x="327.8" y="548.2" font-size="6.3" text-anchor="end" fill="#262626">10</text>
<path d="M333.5 579.4h2.0M539.6 579.4h-2.0" stroke="#262626" stroke-width="0.5"/>
<text x="330.5" y="579.7" font-size="4.6" text-anchor="end" fill="#262626">0</text>
<text x="327.8" y="582.6" font-size="6.3" text-anchor="end" fill="#262626">10</text>
<path d="M333.5 435.3h1.1M539.6 435.3h-1.1M333.5 429.4h1.1M539.6 429.4h-1.1M333.5 425.2h1.1M539.6 425.2h-1.1M333.5 422.0h1.1M539.6 422.0h-1.1M333.5 419.3h1.1M539.6 419.3h-1.1M333.5 468.8h1.1M539.6 468.8h-1.1M333.5 462.9h1.1M539.6 462.9h-1.1M333.5 458.7h1.1M539.6 458.7h-1.1M333.5 455.5h1.1M539.6 455.5h-1.1M333.5 452.8h1.1M539.6 452.8h-1.1M333.5 450.6h1.1M539.6 450.6h-1.1M333.5 448.6h1.1M539.6 448.6h-1.1M333.5 446.9h1.1M539.6 446.9h-1.1M333.5 512.4h1.1M539.6 512.4h-1.1M333.5 502.3h1.1M539.6 502.3h-1.1M333.5 496.4h1.1M539.6 496.4h-1.1M333.5 492.2h1.1M539.6 492.2h-1.1M333.5 489.0h1.1M539.6 489.0h-1.1M333.5 486.3h1.1M539.6 486.3h-1.1M333.5 484.1h1.1M539.6 484.1h-1.1M333.5 482.1h1.1M539.6 482.1h-1.1M333.5 480.4h1.1M539.6 480.4h-1.1M333.5 545.9h1.1M539.6 545.9h-1.1M333.5 535.8h1.1M539.6 535.8h-1.1M333.5 529.9h1.1M539.6 529.9h-1.1M333.5 525.7h1.1M539.6 525.7h-1.1M333.5 522.5h1.1M539.6 522.5h-1.1M333.5 519.8h1.1M539.6 519.8h-1.1M333.5 517.6h1.1M539.6 517.6h-1.1M333.5 515.6h1.1M539.6 515.6h-1.1M333.5 513.9h1.1M539.6 513.9h-1.1M333.5 569.3h1.1M539.6 569.3h-1.1M333.5 563.4h1.1M539.6 563.4h-1.1M333.5 559.2h1.1M539.6 559.2h-1.1M333.5 556.0h1.1M539.6 556.0h-1.1M333.5 553.3h1.1M539.6 553.3h-1.1M333.5 551.1h1.1M539.6 551.1h-1.1M333.5 549.1h1.1M539.6 549.1h-1.1M333.5 547.4h1.1M539.6 547.4h-1.1" stroke="#262626" stroke-width="0.5"/>
<g clip-path="url(#c6)">
<polyline points="333.7,416.5 335.2,417.0 335.8,429.0 337.1,450.7 347.0,451.2 347.2,474.0 347.9,569.0 356.6,569.0" fill="none" stroke="#ff0000" stroke-width="2.15" stroke-linejoin="round"/>
<polyline points="333.7,416.5 335.5,423.0 337.0,425.8 361.0,425.8 362.8,429.1 376.5,429.4 378.2,434.5 528.6,434.5 529.3,476.0 530.4,527.5" fill="none" stroke="#0000ff" stroke-width="2.30" stroke-linejoin="round" stroke-dasharray="7.8 7.0"/>
<polyline points="530.6,530.0 539.8,530.0" fill="none" stroke="#0000ff" stroke-width="2.30" stroke-linejoin="round"/>
<polyline points="333.9,417.0 337.7,426.5 341.5,435.5 346.0,452.0 347.9,460.9 351.1,469.8 354.3,479.5 356.1,481.5 360.2,489.8 365.9,498.0 369.2,504.5 372.5,512.7 375.7,520.9 378.2,529.1 382.3,534.0 385.5,537.3 388.0,541.4 392.1,543.8 396.2,547.9 400.3,548.7 403.5,551.2 406.8,556.9 409.3,562.6 415.6,563.2 417.0,568.6 504.2,568.6" fill="none" stroke="#d95319" stroke-width="2.15" stroke-linejoin="round"/>
<polyline points="333.7,417.0 339.6,434.2 344.1,443.1 346.0,453.3 347.3,463.5 350.5,473.6 354.0,481.5 357.7,486.5 363.5,488.2 365.1,499.6 365.9,522.5 368.4,534.0 370.0,542.2 372.5,552.0 375.7,556.9 379.0,561.8 381.5,563.5 388.8,563.5 389.6,579.4 491.0,579.4" fill="none" stroke="#edb120" stroke-width="2.15" stroke-linejoin="round"/>
<polyline points="333.7,416.5 334.5,417.6 337.7,425.3 341.5,434.2 346.0,443.1 347.9,453.3 350.5,460.9 353.6,463.5 356.2,472.4 359.4,474.9 361.0,481.5 363.5,486.5 366.7,491.5 369.2,499.6 374.1,504.5 376.5,514.4 379.8,523.4 382.3,524.2 384.7,532.4 388.0,541.4 391.3,543.0 393.7,550.4 396.2,561.8 398.6,563.5 399.9,581.0" fill="none" stroke="#7e2f8e" stroke-width="2.15" stroke-linejoin="round"/>
<polyline points="333.7,417.0 333.9,420.2 340.3,441.8 343.5,448.2 344.1,460.9 347.3,468.5 349.5,478.0 352.8,489.8 356.1,494.7 357.7,507.8 360.2,522.5 362.6,529.1 364.3,535.6 367.5,545.5 370.0,552.0 372.5,561.8 374.9,570.0 376.5,581.0" fill="none" stroke="#77ac30" stroke-width="2.15" stroke-linejoin="round"/>
<polyline points="333.7,417.0 336.5,429.1 339.0,441.8 340.9,452.0 342.2,460.9 344.7,466.0 346.6,467.3 348.5,473.6 350.5,478.7 352.2,482.0 353.6,488.2 357.7,493.1 360.2,507.8 361.8,522.5 364.3,525.8 367.5,527.5 369.2,535.6 371.6,537.3 373.3,548.7 375.7,556.9 377.4,568.4 382.3,569.2 383.9,578.2 384.7,581.0" fill="none" stroke="#4dbeee" stroke-width="2.15" stroke-linejoin="round"/>
</g>
<text x="436.6" y="413.9" font-size="6.7" text-anchor="middle" fill="#000">F6</text>
<text x="436.6" y="597.7" font-size="7.0" text-anchor="middle" fill="#262626">Iterations</text>
<text transform="translate(317.0 497.9) rotate(-90)" font-size="6.8" text-anchor="middle" fill="#262626">Best score</text>
<rect x="489.2" y="416.4" width="50.6" height="56.0" fill="#fff" stroke="#262626" stroke-width="0.6"/>
<path d="M491.4 421.5H510.2" stroke="#ff0000" stroke-width="2.1"/>
<text x="511.4" y="423.6" font-size="5.85" fill="#000" stroke="#000" stroke-width="0.12">ISCHNOA</text>
<path d="M491.4 429.4H510.2" stroke="#0000ff" stroke-width="2.1" stroke-dasharray="7.4 7.6"/>
<text x="511.4" y="431.4" font-size="5.85" fill="#000" stroke="#000" stroke-width="0.12">NOA</text>
<path d="M491.4 437.2H510.2" stroke="#d95319" stroke-width="2.1"/>
<text x="511.4" y="439.3" font-size="5.85" fill="#000" stroke="#000" stroke-width="0.12">SCHO</text>
<path d="M491.4 445.1H510.2" stroke="#edb120" stroke-width="2.1"/>
<text x="511.4" y="447.1" font-size="5.85" fill="#000" stroke="#000" stroke-width="0.12">WOA</text>
<path d="M491.4 452.9H510.2" stroke="#7e2f8e" stroke-width="2.1"/>
<text x="511.4" y="455.0" font-size="5.85" fill="#000" stroke="#000" stroke-width="0.12">GWO</text>
<path d="M491.4 460.8H510.2" stroke="#77ac30" stroke-width="2.1"/>
<text x="511.4" y="462.8" font-size="5.85" fill="#000" stroke="#000" stroke-width="0.12">EO</text>
<path d="M491.4 468.6H510.2" stroke="#4dbeee" stroke-width="2.1"/>
<text x="511.4" y="470.7" font-size="5.85" fill="#000" stroke="#000" stroke-width="0.12">HBA</text>
<clipPath id="c7"><rect x="33.4" y="616.3" width="207.9" height="164.8"/></clipPath>
<rect x="34.4" y="617.5" width="205.9" height="162.6" fill="#fff" stroke="#262626" stroke-width="0.55"/>
<path d="M54.6 780.1v-2.0M54.6 617.5v2.0" stroke="#262626" stroke-width="0.5"/>
<text x="54.6" y="789.6" font-size="6.3" text-anchor="middle" fill="#262626">50</text>
<path d="M75.2 780.1v-2.0M75.2 617.5v2.0" stroke="#262626" stroke-width="0.5"/>
<text x="75.2" y="789.6" font-size="6.3" text-anchor="middle" fill="#262626">100</text>
<path d="M95.9 780.1v-2.0M95.9 617.5v2.0" stroke="#262626" stroke-width="0.5"/>
<text x="95.9" y="789.6" font-size="6.3" text-anchor="middle" fill="#262626">150</text>
<path d="M116.5 780.1v-2.0M116.5 617.5v2.0" stroke="#262626" stroke-width="0.5"/>
<text x="116.5" y="789.6" font-size="6.3" text-anchor="middle" fill="#262626">200</text>
<path d="M137.1 780.1v-2.0M137.1 617.5v2.0" stroke="#262626" stroke-width="0.5"/>
<text x="137.1" y="789.6" font-size="6.3" text-anchor="middle" fill="#262626">250</text>
<path d="M157.8 780.1v-2.0M157.8 617.5v2.0" stroke="#262626" stroke-width="0.5"/>
<text x="157.8" y="789.6" font-size="6.3" text-anchor="middle" fill="#262626">300</text>
<path d="M178.4 780.1v-2.0M178.4 617.5v2.0" stroke="#262626" stroke-width="0.5"/>
<text x="178.4" y="789.6" font-size="6.3" text-anchor="middle" fill="#262626">350</text>
<path d="M199.0 780.1v-2.0M199.0 617.5v2.0" stroke="#262626" stroke-width="0.5"/>
<text x="199.0" y="789.6" font-size="6.3" text-anchor="middle" fill="#262626">400</text>
<path d="M219.7 780.1v-2.0M219.7 617.5v2.0" stroke="#262626" stroke-width="0.5"/>
<text x="219.7" y="789.6" font-size="6.3" text-anchor="middle" fill="#262626">450</text>
<path d="M240.3 780.1v-2.0M240.3 617.5v2.0" stroke="#262626" stroke-width="0.5"/>
<text x="240.3" y="789.6" font-size="6.3" text-anchor="middle" fill="#262626">500</text>
<path d="M34.4 622.6h2.0M240.3 622.6h-2.0" stroke="#262626" stroke-width="0.5"/>
<text x="31.4" y="622.9" font-size="4.6" text-anchor="end" fill="#262626">2</text>
<text x="28.6" y="625.8" font-size="6.3" text-anchor="end" fill="#262626">10</text>
<path d="M34.4 674.3h2.0M240.3 674.3h-2.0" stroke="#262626" stroke-width="0.5"/>
<text x="31.4" y="674.6" font-size="4.6" text-anchor="end" fill="#262626">0</text>
<text x="28.6" y="677.5" font-size="6.3" text-anchor="end" fill="#262626">10</text>
<path d="M34.4 726.0h2.0M240.3 726.0h-2.0" stroke="#262626" stroke-width="0.5"/>
<text x="31.4" y="726.3" font-size="4.6" text-anchor="end" fill="#262626">-2</text>
<text x="26.1" y="729.2" font-size="6.3" text-anchor="end" fill="#262626">10</text>
<path d="M34.4 777.7h2.0M240.3 777.7h-2.0" stroke="#262626" stroke-width="0.5"/>
<text x="31.4" y="778.0" font-size="4.6" text-anchor="end" fill="#262626">-4</text>
<text x="26.1" y="780.9" font-size="6.3" text-anchor="end" fill="#262626">10</text>
<path d="M34.4 648.4h1.1M240.3 648.4h-1.1M34.4 640.7h1.1M240.3 640.7h-1.1M34.4 636.1h1.1M240.3 636.1h-1.1M34.4 632.9h1.1M240.3 632.9h-1.1M34.4 630.4h1.1M240.3 630.4h-1.1M34.4 628.3h1.1M240.3 628.3h-1.1M34.4 626.6h1.1M240.3 626.6h-1.1M34.4 625.1h1.1M240.3 625.1h-1.1M34.4 623.8h1.1M240.3 623.8h-1.1M34.4 666.5h1.1M240.3 666.5h-1.1M34.4 662.0h1.1M240.3 662.0h-1.1M34.4 658.7h1.1M240.3 658.7h-1.1M34.4 656.2h1.1M240.3 656.2h-1.1M34.4 654.2h1.1M240.3 654.2h-1.1M34.4 652.5h1.1M240.3 652.5h-1.1M34.4 651.0h1.1M240.3 651.0h-1.1M34.4 649.6h1.1M240.3 649.6h-1.1M34.4 700.1h1.1M240.3 700.1h-1.1M34.4 692.4h1.1M240.3 692.4h-1.1M34.4 687.8h1.1M240.3 687.8h-1.1M34.4 684.6h1.1M240.3 684.6h-1.1M34.4 682.1h1.1M240.3 682.1h-1.1M34.4 680.0h1.1M240.3 680.0h-1.1M34.4 678.3h1.1M240.3 678.3h-1.1M34.4 676.8h1.1M240.3 676.8h-1.1M34.4 675.5h1.1M240.3 675.5h-1.1M34.4 718.2h1.1M240.3 718.2h-1.1M34.4 713.7h1.1M240.3 713.7h-1.1M34.4 710.4h1.1M240.3 710.4h-1.1M34.4 707.9h1.1M240.3 707.9h-1.1M34.4 705.9h1.1M240.3 705.9h-1.1M34.4 704.2h1.1M240.3 704.2h-1.1M34.4 702.7h1.1M240.3 702.7h-1.1M34.4 701.3h1.1M240.3 701.3h-1.1M34.4 751.8h1.1M240.3 751.8h-1.1M34.4 744.1h1.1M240.3 744.1h-1.1M34.4 739.5h1.1M240.3 739.5h-1.1M34.4 736.3h1.1M240.3 736.3h-1.1M34.4 733.8h1.1M240.3 733.8h-1.1M34.4 731.7h1.1M240.3 731.7h-1.1M34.4 730.0h1.1M240.3 730.0h-1.1M34.4 728.5h1.1M240.3 728.5h-1.1M34.4 727.2h1.1M240.3 727.2h-1.1M34.4 769.9h1.1M240.3 769.9h-1.1M34.4 765.4h1.1M240.3 765.4h-1.1M34.4 762.1h1.1M240.3 762.1h-1.1M34.4 759.6h1.1M240.3 759.6h-1.1M34.4 757.6h1.1M240.3 757.6h-1.1M34.4 755.9h1.1M240.3 755.9h-1.1M34.4 754.4h1.1M240.3 754.4h-1.1M34.4 753.0h1.1M240.3 753.0h-1.1M34.4 778.9h1.1M240.3 778.9h-1.1" stroke="#262626" stroke-width="0.5"/>
<g clip-path="url(#c7)">
<polyline points="34.4,617.7 34.6,687.4 40.1,687.7 40.6,695.5 46.4,696.4 47.2,715.2 51.3,716.0 52.1,724.2 58.6,725.0 59.5,748.7 101.2,748.7 101.7,761.0 110.0,761.0 110.0,761.0 156.6,761.0 157.9,779.4 239.6,779.4" fill="none" stroke="#ff0000" stroke-width="2.15" stroke-linejoin="round"/>
<polyline points="34.8,617.7 35.2,619.0 36.0,624.9 42.0,625.0 44.5,627.9 66.6,628.5 68.1,630.5 68.5,673.6 98.0,674.0 99.5,676.0 100.5,688.0 110.0,688.6 117.4,689.3 122.3,691.8 137.0,692.3 149.3,693.5 155.4,695.2 156.6,702.1 175.0,702.6 175.8,721.7 176.8,730.3 183.6,732.3 239.6,732.3" fill="none" stroke="#0000ff" stroke-width="2.30" stroke-linejoin="round" stroke-dasharray="7.8 7.0"/>
<polyline points="34.6,617.7 37.5,643.0 40.0,661.0 41.5,680.0 44.7,693.1 46.4,696.4 52.1,702.9 59.5,704.5 60.3,710.3 69.3,711.1 93.0,711.1 94.6,742.2 110.0,743.0 110.0,744.3 113.7,745.0 114.9,750.0 124.7,751.2 126.0,762.2 133.3,763.5 134.5,773.8 239.6,774.0" fill="none" stroke="#d95319" stroke-width="2.15" stroke-linejoin="round"/>
<polyline points="34.8,617.7 38.2,643.2 41.5,661.0 43.9,680.0 45.5,696.4 46.4,712.7 48.8,715.2 54.5,718.5 66.8,718.5 67.6,723.4 73.4,724.2 77.5,725.8 81.5,726.6 82.4,746.3 110.0,746.9 110.0,745.8 112.5,746.3 117.4,750.0 124.7,750.7 154.2,750.9 192.2,750.9 193.9,752.7 195.9,753.6 203.3,754.9 204.5,761.0 215.5,762.2 216.8,764.7" fill="none" stroke="#edb120" stroke-width="2.15" stroke-linejoin="round"/>
<polyline points="34.4,617.7 36.5,640.0 38.5,660.0 39.8,680.0 41.5,696.4 44.7,698.8 51.3,700.5 60.3,700.5 60.8,709.5 69.3,710.3 77.5,711.9 84.0,712.7 84.8,723.4 110.0,723.9 110.0,723.7 126.0,723.7 126.7,731.1 181.2,731.5 183.1,733.3 239.6,733.5" fill="none" stroke="#7e2f8e" stroke-width="2.15" stroke-linejoin="round"/>
<polyline points="34.4,617.7 36.3,643.2 40.7,673.7 40.6,680.0 43.1,693.1 46.4,698.0 50.5,699.6 50.9,711.1 56.2,711.9 57.0,718.5 75.0,718.8 75.8,721.7 77.5,722.2 78.3,734.8 110.0,735.1 110.0,735.2 121.0,735.2 123.5,739.6 139.5,740.1 141.9,742.6 146.8,744.3 149.3,746.3 153.0,747.5 154.2,750.7 239.6,751.2" fill="none" stroke="#77ac30" stroke-width="2.15" stroke-linejoin="round"/>
<polyline points="34.4,630.5 36.9,655.9 40.7,676.3 42.3,680.0 43.9,693.1 46.4,701.3 48.8,709.5 52.1,712.7 54.5,714.4 54.9,724.2 57.8,727.5 59.5,728.3 66.0,729.1 67.6,731.5 77.5,732.4 86.5,732.4 87.3,736.5 91.4,738.1 110.0,738.4 110.0,738.2 114.9,738.4 116.1,751.2 118.6,763.5 119.8,765.2 239.6,765.2" fill="none" stroke="#4dbeee" stroke-width="2.15" stroke-linejoin="round"/>
</g>
<text x="137.3" y="614.9" font-size="6.7" text-anchor="middle" fill="#000">F7</text>
<text x="137.3" y="798.4" font-size="7.0" text-anchor="middle" fill="#262626">Iterations</text>
<text transform="translate(15.5 698.8) rotate(-90)" font-size="6.8" text-anchor="middle" fill="#262626">Best score</text>
<rect x="189.5" y="617.5" width="50.8" height="56.7" fill="#fff" stroke="#262626" stroke-width="0.6"/>
<path d="M191.7 622.6H210.5" stroke="#ff0000" stroke-width="2.1"/>
<text x="211.7" y="624.7" font-size="5.85" fill="#000" stroke="#000" stroke-width="0.12">ISCHNOA</text>
<path d="M191.7 630.5H210.5" stroke="#0000ff" stroke-width="2.1" stroke-dasharray="7.4 7.6"/>
<text x="211.7" y="632.5" font-size="5.85" fill="#000" stroke="#000" stroke-width="0.12">NOA</text>
<path d="M191.7 638.4H210.5" stroke="#d95319" stroke-width="2.1"/>
<text x="211.7" y="640.4" font-size="5.85" fill="#000" stroke="#000" stroke-width="0.12">SCHO</text>
<path d="M191.7 646.2H210.5" stroke="#edb120" stroke-width="2.1"/>
<text x="211.7" y="648.2" font-size="5.85" fill="#000" stroke="#000" stroke-width="0.12">WOA</text>
<path d="M191.7 654.0H210.5" stroke="#7e2f8e" stroke-width="2.1"/>
<text x="211.7" y="656.1" font-size="5.85" fill="#000" stroke="#000" stroke-width="0.12">GWO</text>
<path d="M191.7 661.9H210.5" stroke="#77ac30" stroke-width="2.1"/>
<text x="211.7" y="663.9" font-size="5.85" fill="#000" stroke="#000" stroke-width="0.12">EO</text>
<path d="M191.7 669.8H210.5" stroke="#4dbeee" stroke-width="2.1"/>
<text x="211.7" y="671.8" font-size="5.85" fill="#000" stroke="#000" stroke-width="0.12">HBA</text>
<clipPath id="c8"><rect x="332.5" y="616.3" width="208.0" height="164.8"/></clipPath>
<rect x="333.5" y="617.5" width="206.0" height="162.6" fill="#fff" stroke="#262626" stroke-width="0.55"/>
<path d="M353.7 780.1v-2.0M353.7 617.5v2.0" stroke="#262626" stroke-width="0.5"/>
<text x="353.7" y="789.6" font-size="6.3" text-anchor="middle" fill="#262626">50</text>
<path d="M374.4 780.1v-2.0M374.4 617.5v2.0" stroke="#262626" stroke-width="0.5"/>
<text x="374.4" y="789.6" font-size="6.3" text-anchor="middle" fill="#262626">100</text>
<path d="M395.0 780.1v-2.0M395.0 617.5v2.0" stroke="#262626" stroke-width="0.5"/>
<text x="395.0" y="789.6" font-size="6.3" text-anchor="middle" fill="#262626">150</text>
<path d="M415.7 780.1v-2.0M415.7 617.5v2.0" stroke="#262626" stroke-width="0.5"/>
<text x="415.7" y="789.6" font-size="6.3" text-anchor="middle" fill="#262626">200</text>
<path d="M436.3 780.1v-2.0M436.3 617.5v2.0" stroke="#262626" stroke-width="0.5"/>
<text x="436.3" y="789.6" font-size="6.3" text-anchor="middle" fill="#262626">250</text>
<path d="M456.9 780.1v-2.0M456.9 617.5v2.0" stroke="#262626" stroke-width="0.5"/>
<text x="456.9" y="789.6" font-size="6.3" text-anchor="middle" fill="#262626">300</text>
<path d="M477.6 780.1v-2.0M477.6 617.5v2.0" stroke="#262626" stroke-width="0.5"/>
<text x="477.6" y="789.6" font-size="6.3" text-anchor="middle" fill="#262626">350</text>
<path d="M498.2 780.1v-2.0M498.2 617.5v2.0" stroke="#262626" stroke-width="0.5"/>
<text x="498.2" y="789.6" font-size="6.3" text-anchor="middle" fill="#262626">400</text>
<path d="M518.9 780.1v-2.0M518.9 617.5v2.0" stroke="#262626" stroke-width="0.5"/>
<text x="518.9" y="789.6" font-size="6.3" text-anchor="middle" fill="#262626">450</text>
<path d="M539.5 780.1v-2.0M539.5 617.5v2.0" stroke="#262626" stroke-width="0.5"/>
<text x="539.5" y="789.6" font-size="6.3" text-anchor="middle" fill="#262626">500</text>
<path d="M333.5 645.0h2.0M539.5 645.0h-2.0" stroke="#262626" stroke-width="0.5"/>
<text x="330.5" y="645.3" font-size="4.6" text-anchor="end" fill="#262626">0</text>
<text x="327.8" y="648.2" font-size="6.3" text-anchor="end" fill="#262626">10</text>
<path d="M333.5 696.4h2.0M539.5 696.4h-2.0" stroke="#262626" stroke-width="0.5"/>
<text x="330.5" y="696.7" font-size="4.6" text-anchor="end" fill="#262626">-5</text>
<text x="325.2" y="699.6" font-size="6.3" text-anchor="end" fill="#262626">10</text>
<path d="M333.5 747.8h2.0M539.5 747.8h-2.0" stroke="#262626" stroke-width="0.5"/>
<text x="330.5" y="748.1" font-size="4.6" text-anchor="end" fill="#262626">-10</text>
<text x="322.7" y="751.0" font-size="6.3" text-anchor="end" fill="#262626">10</text>
<path d="M333.5 624.4h1.1M539.5 624.4h-1.1M333.5 634.7h1.1M539.5 634.7h-1.1M333.5 655.3h1.1M539.5 655.3h-1.1M333.5 665.6h1.1M539.5 665.6h-1.1M333.5 675.8h1.1M539.5 675.8h-1.1M333.5 686.1h1.1M539.5 686.1h-1.1M333.5 706.7h1.1M539.5 706.7h-1.1M333.5 717.0h1.1M539.5 717.0h-1.1M333.5 727.2h1.1M539.5 727.2h-1.1M333.5 737.5h1.1M539.5 737.5h-1.1M333.5 758.1h1.1M539.5 758.1h-1.1M333.5 768.4h1.1M539.5 768.4h-1.1M333.5 778.6h1.1M539.5 778.6h-1.1" stroke="#262626" stroke-width="0.5"/>
<g clip-path="url(#c8)">
<polyline points="333.6,617.7 337.4,624.3 337.9,664.4 342.8,664.7 343.2,720.0 343.3,782.0" fill="none" stroke="#ff0000" stroke-width="2.15" stroke-linejoin="round"/>
<polyline points="333.6,618.0 356.2,619.3 370.9,620.2 378.6,621.9 379.6,625.1 379.9,630.8 398.7,631.1 401.2,631.6 401.7,635.7 422.1,635.9 423.2,654.0 423.9,655.6 456.4,655.6 458.0,669.5 459.7,714.9 464.2,717.1 466.4,725.9 477.4,727.0 479.2,740.3 481.4,755.8 482.3,770.2 483.6,782.0" fill="none" stroke="#0000ff" stroke-width="2.30" stroke-linejoin="round" stroke-dasharray="7.8 7.0"/>
<polyline points="333.6,617.7 339.8,622.6 346.4,625.9 354.5,627.5 362.7,628.4 370.9,629.2 382.4,629.7 390.5,630.0 391.4,661.1 392.2,717.0 392.7,751.4" fill="none" stroke="#d95319" stroke-width="2.15" stroke-linejoin="round"/>
<polyline points="333.6,617.7 339.8,621.0 346.4,622.6 351.3,625.1 357.8,627.5 360.8,628.7 361.4,634.9 364.4,638.2 369.3,643.1 373.4,647.2 375.0,652.9 377.5,664.4 379.1,672.5 382.4,674.2 384.0,684.0 385.6,692.2 387.0,697.5 391.4,704.7 395.5,706.4 398.7,711.3 400.6,718.0 401.3,731.5 403.3,732.6 405.5,742.5 408.8,755.8 412.2,769.1 414.4,777.9 415.2,782.0" fill="none" stroke="#edb120" stroke-width="2.15" stroke-linejoin="round"/>
<polyline points="333.6,617.7 339.8,621.0 346.4,622.6 351.3,625.1 357.8,627.5 366.0,629.2 370.9,632.5 374.2,634.9 379.1,637.4 384.0,638.2 388.9,639.0 390.5,646.4 393.0,656.2 397.1,667.6 400.0,673.9 404.4,687.2 411.1,704.9 417.7,718.2 424.3,729.3 431.0,740.3 437.6,749.2 444.2,756.9 450.9,763.5 456.4,768.0 459.7,769.7 466.4,770.6 539.8,770.8" fill="none" stroke="#7e2f8e" stroke-width="2.15" stroke-linejoin="round"/>
<polyline points="333.6,617.7 341.5,624.3 346.4,630.0 349.6,639.8 352.9,651.3 357.0,666.0 361.1,677.5 364.4,690.0 367.6,698.2 370.9,708.0 374.2,717.8 379.1,727.6 383.2,737.5 385.6,747.3 388.9,757.1 392.2,766.9 394.6,775.1 397.6,782.0" fill="none" stroke="#77ac30" stroke-width="2.15" stroke-linejoin="round"/>
<polyline points="333.6,617.7 339.8,625.1 343.1,634.9 346.4,646.4 348.8,657.8 351.3,675.8 354.5,690.0 357.0,698.2 360.3,709.6 362.7,719.5 366.0,727.6 369.3,737.5 370.9,748.9 373.4,758.7 375.8,770.2 377.8,782.0" fill="none" stroke="#4dbeee" stroke-width="2.15" stroke-linejoin="round"/>
</g>
<text x="436.5" y="614.9" font-size="6.7" text-anchor="middle" fill="#000">F9</text>
<text x="436.5" y="798.4" font-size="7.0" text-anchor="middle" fill="#262626">Iterations</text>
<text transform="translate(311.0 698.8) rotate(-90)" font-size="6.8" text-anchor="middle" fill="#262626">Best score</text>
<rect x="488.5" y="617.5" width="51.0" height="56.7" fill="#fff" stroke="#262626" stroke-width="0.6"/>
<path d="M490.7 622.6H509.5" stroke="#ff0000" stroke-width="2.1"/>
<text x="510.7" y="624.7" font-size="5.85" fill="#000" stroke="#000" stroke-width="0.12">ISCHNOA</text>
<path d="M490.7 630.5H509.5" stroke="#0000ff" stroke-width="2.1" stroke-dasharray="7.4 7.6"/>
<text x="510.7" y="632.5" font-size="5.85" fill="#000" stroke="#000" stroke-width="0.12">NOA</text>
<path d="M490.7 638.4H509.5" stroke="#d95319" stroke-width="2.1"/>
<text x="510.7" y="640.4" font-size="5.85" fill="#000" stroke="#000" stroke-width="0.12">SCHO</text>
<path d="M490.7 646.2H509.5" stroke="#edb120" stroke-width="2.1"/>
<text x="510.7" y="648.2" font-size="5.85" fill="#000" stroke="#000" stroke-width="0.12">WOA</text>
<path d="M490.7 654.0H509.5" stroke="#7e2f8e" stroke-width="2.1"/>
<text x="510.7" y="656.1" font-size="5.85" fill="#000" stroke="#000" stroke-width="0.12">GWO</text>
<path d="M490.7 661.9H509.5" stroke="#77ac30" stroke-width="2.1"/>
<text x="510.7" y="663.9" font-size="5.85" fill="#000" stroke="#000" stroke-width="0.12">EO</text>
<path d="M490.7 669.8H509.5" stroke="#4dbeee" stroke-width="2.1"/>
<text x="510.7" y="671.8" font-size="5.85" fill="#000" stroke="#000" stroke-width="0.12">HBA</text>
</svg>
</body></html>
